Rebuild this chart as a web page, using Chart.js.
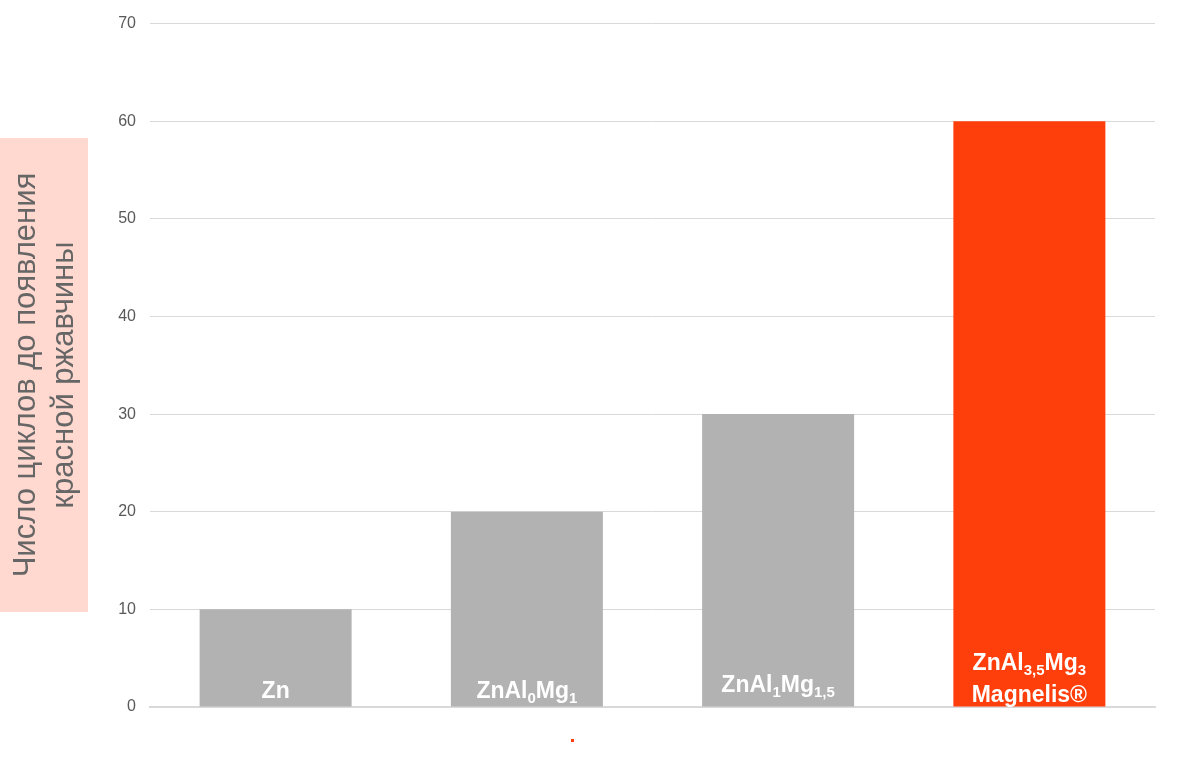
<!DOCTYPE html>
<html><head><meta charset="utf-8">
<script src="https://cdn.jsdelivr.net/npm/chart.js@4"></script>
<style>html,body{margin:0;padding:0;background:#fff}#wrap{width:1177px;height:765px}</style>
</head><body><div id="wrap"><canvas id="c"></canvas></div>
<script>
const categories = ["Zn", "ZnAl_{0}Mg_{1}", "ZnAl_{1}Mg_{1,5}", "ZnAl_{3,5}Mg_{3}\nMagnelis®"];
const values = [10, 20, 30, 60];
const barColors = ["#b2b2b2", "#b2b2b2", "#b2b2b2", "#ff3f0b"];
const yTitle = ["Число циклов до появления", "красной ржавчины"];

function parse(s){const out=[];const re=/([^_]+)|_\{([^}]*)\}/g;let m;while((m=re.exec(s))){if(m[1])out.push([m[1],false]);else out.push([m[2],true]);}return out;}
const labelPlugin={id:'lbl',afterDatasetsDraw(chart){
  const ctx=chart.ctx;const meta=chart.getDatasetMeta(0);
  const yOff=[692,692,686,null];
  meta.data.forEach((bar,i)=>{
    const lines=categories[i].split("\n");
    const ys = lines.length===2?[664,696]:[yOff[i]];
    lines.forEach((ln,j)=>{
      const parts=parse(ln);
      const big='bold 23px "Liberation Sans", Arial', small='bold 15px "Liberation Sans", Arial';
      let w=0;parts.forEach(p=>{ctx.font=p[1]?small:big;w+=ctx.measureText(p[0]).width;});
      let x=bar.x-w/2;ctx.fillStyle='#fff';ctx.textBaseline='middle';ctx.textAlign='left';
      parts.forEach(p=>{ctx.font=p[1]?small:big;ctx.fillText(p[0],x,ys[j]+(p[1]?7:0));x+=ctx.measureText(p[0]).width;});
    });
  });
  // y title box
  ctx.save();ctx.fillStyle='#ffd9cf';ctx.fillRect(0,138,88,474);
  ctx.translate(44,375);ctx.rotate(-Math.PI/2);ctx.fillStyle='#666';ctx.font='31px "Liberation Sans", Arial';
  ctx.textAlign='center';ctx.textBaseline='middle';ctx.fillText(yTitle[0],0,-18);ctx.fillText(yTitle[1],0,20);ctx.restore();
  ctx.fillStyle='#ff3f0b';ctx.fillRect(571,739,3,3);
}};
new Chart(document.getElementById('c'),{type:'bar',
 data:{labels:categories,datasets:[{data:values,backgroundColor:barColors,categoryPercentage:1,barPercentage:0.605}]},
 options:{responsive:true,maintainAspectRatio:false,animation:false,
  layout:{padding:{left:100,top:14,right:22,bottom:50}},
  plugins:{legend:{display:false},tooltip:{enabled:false}},
  scales:{
   x:{display:true,ticks:{display:false},grid:{display:false},border:{color:'#d9d9d9',width:2}},
   y:{min:0,max:70,ticks:{stepSize:10,color:'#595959',font:{size:16,family:'"Liberation Sans", Arial'},padding:14},
      grid:{color:'#d9d9d9',drawTicks:false},border:{display:false},
      afterFit(s){s.width=50;}}
  }},
 plugins:[labelPlugin]});
</script></body></html>
